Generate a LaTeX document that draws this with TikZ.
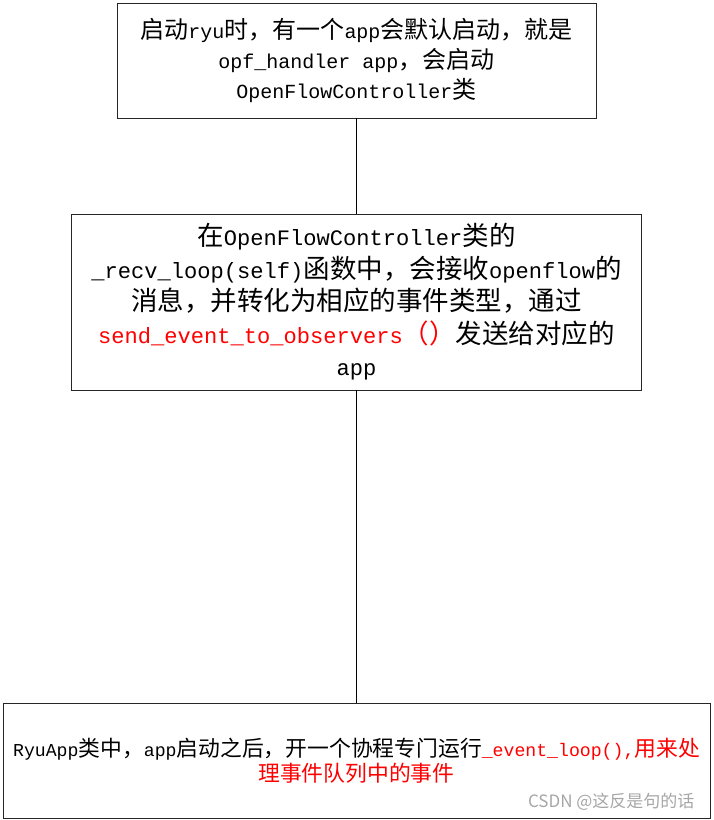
\documentclass[tikz,border=0pt]{standalone}
\usepackage{fontspec}
\setmainfont{Noto Sans CJK SC}
\setmonofont{Liberation Mono}[Scale=0.8333]
\usepackage{xcolor}
\usetikzlibrary{
	positioning     % per posizionare i nodi (below=of)
}
\definecolor{rosso}{HTML}{FF0000}
\definecolor{grigio}{HTML}{A6A6A6}

\begin{document}
\begin{tikzpicture}[x=1pt, y=1pt,
		box/.style={draw=black!85, line width=1pt, align=center, inner sep=2pt, outer sep=0pt},
		filo/.style={black, line width=1pt},
		filigrana/.style={text=grigio, font=\fontsize{17}{20}\selectfont}]
		% Dimensioni dei blocchi
		\def\largA{479}
		\def\largB{570}
		\def\largC{707}
		
		% --- Cornice ---
		\useasboundingbox (0,0) rectangle (714,-820);
		
		% --- Blocchi ---
		% Avvio di ryu
		\node[box, minimum width=\largA, minimum height=115,
			font=\fontsize{24}{30}\selectfont] (avvio) at (356.5,-60.5)
			{启动\texttt{ryu}时，有一个\texttt{app}会默认启动，就是\\\texttt{opf\_handler app}，会启动\\\texttt{OpenFlowController}类};
		% Ricezione dei messaggi
		\node[box, minimum width=\largB, minimum height=176, below=96pt of avvio,
			font=\fontsize{26.5}{32.5}\selectfont] (ricezione)
			{在\texttt{OpenFlowController}类的\\\texttt{\_recv\_loop(self)}函数中，会接收\texttt{openflow}的\\消息，并转化为相应的事件类型，通过\\\textcolor{rosso}{\texttt{send\_event\_to\_observers}（）}发送给对应的\\\texttt{app}};
		% Ciclo degli eventi
		\node[box, minimum width=\largC, minimum height=115, below=313pt of ricezione,
			font=\fontsize{21.8}{25}\selectfont] (ciclo)
			{\texttt{RyuApp}类中，\texttt{app}启动之后，开一个协程专门运行\textcolor{rosso}{\texttt{\_event\_loop(),}用来处}\\\textcolor{rosso}{理事件队列中的事件}};
		
		% --- Collegamenti ---
		\draw[filo] (avvio) -- (ricezione);
		\draw[filo] (ricezione) -- (ciclo);
		
		% Firma in basso a destra
		\node[filigrana, anchor=base east] (firma) at (698,-807) {CSDN @这反是句的话};
	\end{tikzpicture}
\end{document}
